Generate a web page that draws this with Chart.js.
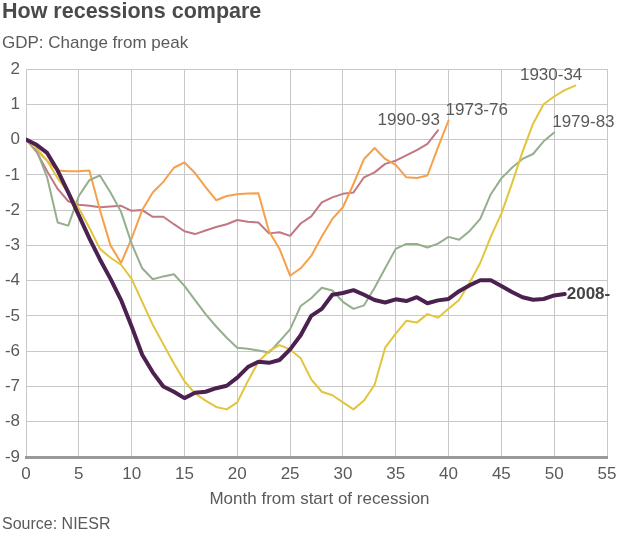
<!DOCTYPE html>
<html lang="en">
<head>
    <meta charset="UTF-8">
    <title>How recessions compare</title>
    <style>
        body {
            margin: 0;
            padding: 0;
            background-color: #ffffff;
        }

        canvas {
            display: block;
        }
    </style>
</head>
<body>
    <canvas id="gdpChart" width="624" height="535"></canvas>

    <script src="https://cdn.jsdelivr.net/npm/chart.js"></script>
    <script>
        // GDP change from peak (%), one value per month from start of recession
        var seriesNames = ['2008-', '1930-34', '1979-83', '1973-76', '1990-93'];

        var gdp2008 = [0, -0.15, -0.38, -0.88, -1.5, -2.15, -2.8, -3.4, -3.95, -4.55,
            -5.3, -6.1, -6.6, -7.0, -7.15, -7.33, -7.18, -7.15, -7.05, -6.98,
            -6.75, -6.45, -6.3, -6.33, -6.25, -5.95, -5.55, -5.0, -4.8, -4.4,
            -4.35, -4.27, -4.4, -4.55, -4.62, -4.53, -4.58, -4.47, -4.64, -4.56,
            -4.52, -4.3, -4.13, -3.99, -3.99, -4.15, -4.32, -4.47, -4.54, -4.52,
            -4.42, -4.38];

        var gdp1930 = [0, -0.25, -0.6, -1.1, -1.5, -1.95, -2.5, -3.1, -3.35, -3.55,
            -3.95, -4.6, -5.25, -5.8, -6.35, -6.85, -7.2, -7.4, -7.58, -7.65,
            -7.45, -6.85, -6.3, -6.0, -5.83, -5.95, -6.2, -6.8, -7.15, -7.25,
            -7.45, -7.65, -7.4, -6.95, -5.9, -5.5, -5.14, -5.19, -4.95, -5.05,
            -4.8, -4.55, -4.05, -3.5, -2.75, -2.1, -1.25, -0.35, 0.45, 1.0,
            1.22, 1.4, 1.53];

        var gdp1979 = [0, -0.3, -1.07, -2.35, -2.44, -1.6, -1.15, -1.02, -1.5, -2.05,
            -2.95, -3.65, -3.96, -3.88, -3.82, -4.15, -4.55, -4.95, -5.3, -5.62,
            -5.9, -5.93, -5.98, -6.04, -5.72, -5.38, -4.72, -4.5, -4.2, -4.28,
            -4.6, -4.8, -4.7, -4.2, -3.65, -3.1, -2.96, -2.96, -3.06, -2.95,
            -2.76, -2.84, -2.59, -2.25, -1.55, -1.1, -0.8, -0.55, -0.41, -0.05,
            0.2];

        var gdp1973 = [0, -0.3, -0.6, -0.88, -0.9, -0.9, -0.88, -2.0, -3.0, -3.5,
            -2.8, -2.0, -1.5, -1.2, -0.8, -0.65, -0.95, -1.35, -1.72, -1.6,
            -1.55, -1.53, -1.52, -2.6, -3.1, -3.86, -3.65, -3.3, -2.75, -2.25,
            -1.92, -1.26, -0.55, -0.24, -0.55, -0.72, -1.07, -1.09, -1.02, -0.22,
            0.54];

        var gdp1990 = [0, -0.35, -0.9, -1.4, -1.75, -1.85, -1.88, -1.92, -1.9, -1.88,
            -2.02, -2.0, -2.19, -2.19, -2.4, -2.6, -2.68, -2.58, -2.48, -2.4,
            -2.28, -2.33, -2.35, -2.66, -2.63, -2.73, -2.38, -2.18, -1.78, -1.64,
            -1.54, -1.5, -1.07, -0.93, -0.69, -0.6, -0.45, -0.3, -0.12, 0.26];

        var xTicks = [0, 5, 10, 15, 20, 25, 30, 35, 40, 45, 50, 55];
        var yTicks = [2, 1, 0, -1, -2, -3, -4, -5, -6, -7, -8, -9];

        var seriesValues = [gdp2008, gdp1930, gdp1979, gdp1973, gdp1990];
        var seriesColors = ['#4b2150', '#e2c53c', '#94ae8e', '#f5a04a', '#c27782'];
        var seriesWidths = [4, 2, 2, 2, 2];

        // label placement relative to the last point of each line: [dx, dy, align]
        var labelPos = [[2, 0, 'left'], [7, -10, 'right'], [-2, -10, 'left'], [-3, -10, 'left'], [2, -10, 'right']];

        function toPoints(values) {
            return values.map(function (v, i) {
                return { x: i, y: v };
            });
        }

        var textPlugin = {
            id: 'chartText',
            afterDatasetsDraw: function (chart) {
                var ctx = chart.ctx;
                var area = chart.chartArea;
                ctx.save();

                // heading
                ctx.textBaseline = 'alphabetic';
                ctx.textAlign = 'left';
                ctx.fillStyle = '#4a4a4a';
                ctx.font = 'bold 21.5px "Liberation Sans", Arial, sans-serif';
                ctx.fillText('How recessions compare', 2, 18);
                ctx.fillStyle = '#5a5a5a';
                ctx.font = '17px "Liberation Sans", Arial, sans-serif';
                ctx.fillText('GDP: Change from peak', 2, 48);

                // axis title and source
                ctx.textAlign = 'center';
                ctx.fillText('Month from start of recession', (area.left + area.right) / 2 + 3, 504);
                ctx.textAlign = 'left';
                ctx.font = '16px "Liberation Sans", Arial, sans-serif';
                ctx.fillText('Source: NIESR', 2, 529);

                // line labels
                ctx.textBaseline = 'middle';
                chart.data.datasets.forEach(function (ds, i) {
                    var meta = chart.getDatasetMeta(i);
                    var last = meta.data[meta.data.length - 1];
                    var pos = labelPos[i];
                    ctx.textAlign = pos[2];
                    if (i === 0) {
                        ctx.font = 'bold 17px "Liberation Sans", Arial, sans-serif';
                        ctx.fillStyle = '#444444';
                    } else {
                        ctx.font = '17px "Liberation Sans", Arial, sans-serif';
                        ctx.fillStyle = '#5a5a5a';
                    }
                    ctx.fillText(ds.label, last.x + pos[0], last.y + pos[1]);
                });
                ctx.restore();
            }
        };

        var ctx = document.getElementById('gdpChart').getContext('2d');
        var gdpChart = new Chart(ctx, {
            type: 'line',
            data: {
                datasets: seriesNames.map(function (name, i) {
                    return {
                        label: name,
                        data: toPoints(seriesValues[i]),
                        borderColor: seriesColors[i],
                        borderWidth: seriesWidths[i],
                        pointRadius: 0,
                        tension: 0,
                        fill: false,
                        borderJoinStyle: 'round',
                        borderCapStyle: 'round'
                    };
                })
            },
            options: {
                responsive: false,
                animation: false,
                events: [],
                layout: {
                    padding: { top: 69, right: 17, bottom: 0, left: 0 }
                },
                scales: {
                    x: {
                        type: 'linear',
                        min: 0,
                        max: 55,
                        afterFit: function (scale) {
                            scale.height = 78;
                        },
                        afterBuildTicks: function (scale) {
                            scale.ticks = xTicks.map(function (v) { return { value: v }; });
                        },
                        grid: {
                            color: '#c8c8c8',
                            lineWidth: 1,
                            drawTicks: false
                        },
                        border: {
                            display: true,
                            color: '#9a9a9a',
                            width: 3
                        },
                        ticks: {
                            padding: 7,
                            color: '#5a5a5a',
                            maxRotation: 0,
                            font: { family: '"Liberation Sans", Arial, sans-serif', size: 17 }
                        }
                    },
                    y: {
                        min: -9,
                        max: 2,
                        afterFit: function (scale) {
                            scale.width = 26;
                        },
                        afterBuildTicks: function (scale) {
                            scale.ticks = yTicks.map(function (v) { return { value: v }; });
                        },
                        grid: {
                            color: '#c8c8c8',
                            lineWidth: 1,
                            drawTicks: false
                        },
                        border: {
                            display: false
                        },
                        ticks: {
                            padding: 6,
                            color: '#5a5a5a',
                            font: { family: '"Liberation Sans", Arial, sans-serif', size: 17 }
                        }
                    }
                },
                plugins: {
                    legend: { display: false },
                    tooltip: { enabled: false }
                }
            },
            plugins: [textPlugin]
        });
    </script>
</body>
</html>
